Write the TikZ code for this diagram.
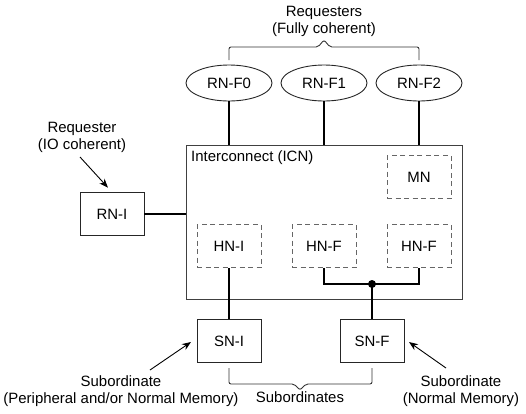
\documentclass[tikz,border=0pt]{standalone}
\usepackage{fontspec}
\setmainfont{Liberation Sans}
\usepackage{tikz}
\usetikzlibrary{shapes.geometric,arrows.meta}

\begin{document}
\begin{tikzpicture}[x=1bp,y=-1bp,
  font=\fontsize{15}{17}\selectfont,
  rnf/.style={draw=black!85, line width=0.9bp, ellipse, minimum width=86bp, minimum height=36bp, inner sep=0pt},
  solidbox/.style={draw=black!85, line width=0.9bp, minimum width=64bp, minimum height=43bp, inner sep=0pt},
  dashbox/.style={draw=black!60, line width=0.9bp, dash pattern=on 5bp off 3.5bp, minimum width=64bp, minimum height=43bp, inner sep=0pt},
  link/.style={line width=2.6bp},
  pointer/.style={-{Stealth[length=9bp,width=7bp]}, line width=0.9bp},
  bracket/.style={draw=black!80, line width=0.9bp, rounded corners=2bp}]
\useasboundingbox (0,0) rectangle (526,413);

% requesters on top
\node[rnf] (RNF0) at (229,83) {RN-F0};
\node[rnf] (RNF1) at (324,83) {RN-F1};
\node[rnf] (RNF2) at (419,83) {RN-F2};
\node[align=center] (REQF) at (324,21) {Requesters\\(Fully coherent)};
\draw[bracket] (229,60) -- (229,47) -- (318,47) -- (324,40) -- (330,47) -- (419,47) -- (419,60);

% interconnect
\node[draw=black!75, line width=0.9bp, minimum width=276bp, minimum height=154bp, inner sep=0pt] (ICN) at (324,222) {};
\node[anchor=north west, inner sep=0pt] (ICNLABEL) at (191,150) {Interconnect (ICN)};
\node[dashbox] (MN) at (419,177) {MN};
\node[dashbox] (HNI) at (229,246) {HN-I};
\node[dashbox] (HNF1) at (324,246) {HN-F};
\node[dashbox] (HNF2) at (419,246) {HN-F};
\coordinate (JOIN) at (372,284);

\draw[link] (RNF0) -- (RNF0 |- ICN.north);
\draw[link] (RNF1) -- (RNF1 |- ICN.north);
\draw[link] (RNF2) -- (RNF2 |- ICN.north);

% IO coherent requester
\node[solidbox] (RNI) at (112,214) {RN-I};
\node[align=center] (REQIO) at (82,137) {Requester\\(IO coherent)};
\draw[link] (RNI.east) -- (ICN.west |- RNI);
\draw[pointer] (80,157) -- (RNI.north) [shorten >=6bp];

% subordinates
\node[solidbox] (SNI) at (229,341) {SN-I};
\node[solidbox] (SNF) at (372,341) {SN-F};
\draw[link] (HNI) -- (SNI);
\draw[link] (HNF1.south) |- (JOIN) -| (HNF2.south);
\draw[link] (JOIN) -- (SNF);
\fill (JOIN) circle (4bp);

\draw[bracket] (229,368) -- (229,384) -- (294,384) -- (300,390) -- (306,384) -- (372,384) -- (372,368);
\node (SUBS) at (300,397) {Subordinates};

\node[align=center] (SUBI) at (121,391) {Subordinate\\(Peripheral and/or Normal Memory)};
\node[align=center] (SUBF) at (461,391) {Subordinate\\(Normal Memory)};
\coordinate (SUBIARR) at (150,370);
\coordinate (SUBFARR) at (446,368);
\draw[pointer] (SUBIARR) -- (191,342);
\draw[pointer] (SUBFARR) -- (409,342);
\end{tikzpicture}
\end{document}
